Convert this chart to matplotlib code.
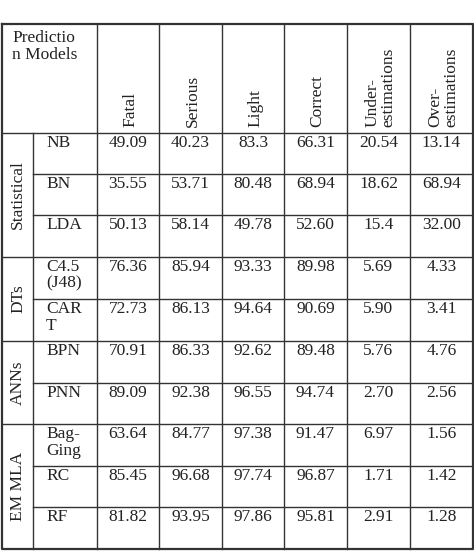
import matplotlib.pyplot as plt

plt.rcParams['font.family'] = ['Liberation Serif', 'DejaVu Serif']

headers = ['Fatal', 'Serious', 'Light', 'Correct', 'Under-\nestimations', 'Over-\nestimations']
models = ['NB', 'BN', 'LDA', 'C4.5\n(J48)', 'CAR\nT', 'BPN', 'PNN', 'Bag-\nGing', 'RC', 'RF']
groups = [('Statistical', 0, 3), ('DTs', 3, 5), ('ANNs', 5, 7), ('EM MLA', 7, 10)]
values = [
    ['49.09', '40.23', '83.3', '66.31', '20.54', '13.14'],
    ['35.55', '53.71', '80.48', '68.94', '18.62', '68.94'],
    ['50.13', '58.14', '49.78', '52.60', '15.4', '32.00'],
    ['76.36', '85.94', '93.33', '89.98', '5.69', '4.33'],
    ['72.73', '86.13', '94.64', '90.69', '5.90', '3.41'],
    ['70.91', '86.33', '92.62', '89.48', '5.76', '4.76'],
    ['89.09', '92.38', '96.55', '94.74', '2.70', '2.56'],
    ['63.64', '84.77', '97.38', '91.47', '6.97', '1.56'],
    ['85.45', '96.68', '97.74', '96.87', '1.71', '1.42'],
    ['81.82', '93.95', '97.86', '95.81', '2.91', '1.28'],
]

# layout in pixels
col_x = [97, 159, 222, 284, 347, 410, 473]
row_y = [133, 174, 215, 257, 299, 341, 383, 424, 466, 507, 549]
left, grp_x, top = 2, 33, 24

fig = plt.figure(figsize=(4.74, 5.51), dpi=100)
ax = fig.add_axes([0, 0, 1, 1])
ax.set_xlim(0, 474)
ax.set_ylim(551, 0)
ax.axis('off')

lc = '#333333'
tc = '#222222'
fs = 12.5
# outer box
ax.plot([left, 473, 473, left, left], [top, top, 549, 549, top], color=lc, lw=1.6)
# vertical lines
for x in col_x[:-1]:
    ax.plot([x, x], [top, 549], color=lc, lw=1)
ax.plot([grp_x, grp_x], [row_y[0], 549], color=lc, lw=1)
# horizontal lines
ax.plot([left, 473], [row_y[0], row_y[0]], color=lc, lw=1)
group_bounds = {g[1] for g in groups} | {g[2] for g in groups}
for i, y in enumerate(row_y[1:-1], start=1):
    x0 = left if i in group_bounds else grp_x
    ax.plot([x0, 473], [y, y], color=lc, lw=1)

ax.text(12, 30, 'Predictio\nn Models', fontsize=fs, va='top', ha='left',
        linespacing=1.05, color=tc)
for j, h in enumerate(headers):
    xc = (col_x[j] + col_x[j + 1]) / 2
    ax.text(xc + 2, 127, h, rotation=90, fontsize=fs, ha='center', va='bottom',
            multialignment='left', linespacing=1.0, color=tc)

for i, m in enumerate(models):
    y0 = row_y[i]
    ax.text(46, y0 + 2, m, fontsize=fs, va='top', ha='left', linespacing=1.05, color=tc)
    for j, v in enumerate(values[i]):
        xc = (col_x[j] + col_x[j + 1]) / 2
        ax.text(xc, y0 + 2, v, fontsize=fs, va='top', ha='center', color=tc)

for name, a, b in groups:
    yc = (row_y[a] + row_y[b]) / 2
    ax.text(18, yc, name, rotation=90, fontsize=fs, ha='center', va='center', color=tc)

fig.savefig('out.png', dpi=100)
